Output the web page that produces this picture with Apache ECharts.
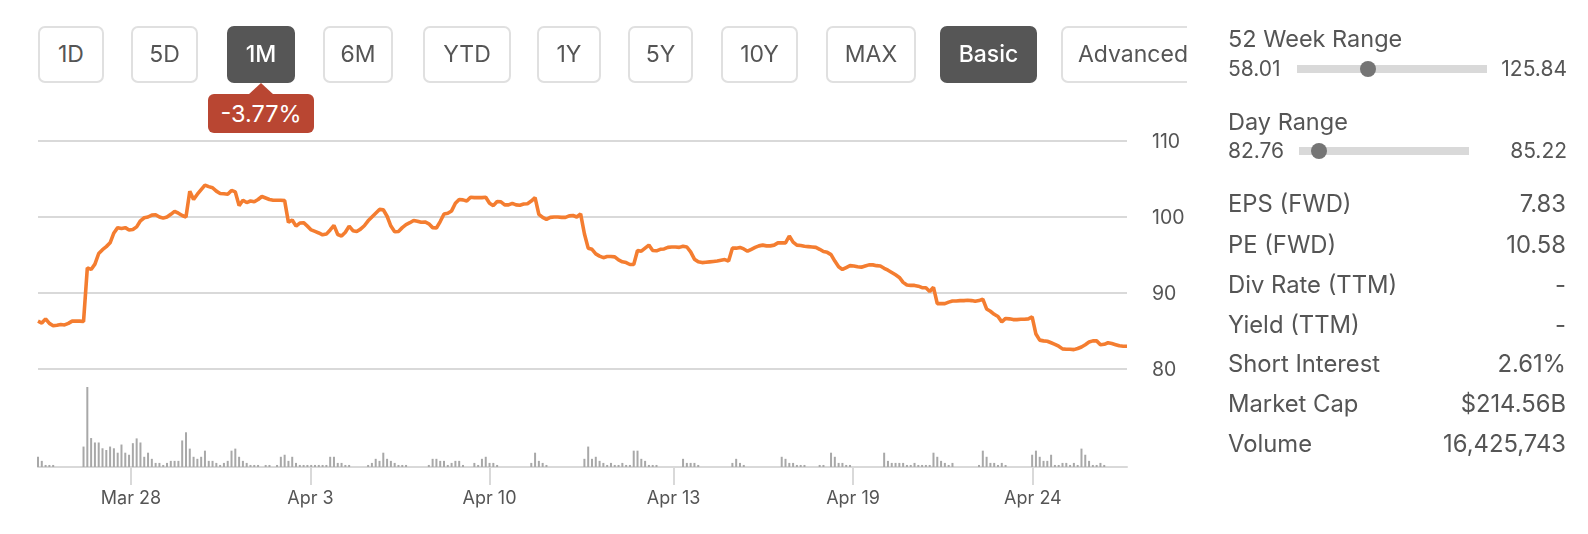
<!DOCTYPE html>
<html>
<head>
<meta charset="utf-8" />
<style>
  html, body { margin: 0; padding: 0; background: #fff; }
  body { width: 1588px; height: 534px; position: relative; overflow: hidden; font-family: Inter, "Noto Sans", sans-serif; color: #555; }
  #chart { position: absolute; left: 0; top: 0; width: 1588px; height: 534px; }
  .btn { position: absolute; top: 26px; height: 53px; line-height: 53px; text-align: center; border: 2px solid #e0e0e0; border-radius: 7px; font-size: 23px; background: #fff; box-sizing: content-box; white-space: nowrap; }
  .btn.on { background: #565656; color: #fff; border-color: #565656; font-weight: 500; }
  #badge { position: absolute; left: 208px; top: 94px; width: 106px; height: 39px; line-height: 39px; text-align: center; background: #b94632; color: #fff; border-radius: 6px; font-size: 23.5px; }
  #arrow { position: absolute; left: 248px; top: 83px; width: 0; height: 0; border-left: 13px solid transparent; border-right: 13px solid transparent; border-bottom: 12px solid #b94632; }
  #clip { position: absolute; left: 0; top: 0; width: 1187px; height: 100px; overflow: hidden; }
  .head { position: absolute; left: 1228px; font-size: 23.5px; line-height: 28px; }
  .small { position: absolute; font-size: 21px; line-height: 24px; }
  .track { position: absolute; height: 8px; background: #d9d9d9; }
  .knob { position: absolute; width: 16px; height: 16px; border-radius: 50%; background: #757575; }
  .row { position: absolute; left: 1228px; width: 338px; display: flex; justify-content: space-between; font-size: 23.8px; line-height: 28px; }
</style>
</head>
<body>
<div id="chart"></div>
<div id="clip"></div>
<div id="arrow"></div>
<div id="badge">-3.77%</div>
<div class="head" style="top:25px">52 Week Range</div>
<div class="small" style="left:1228px;top:57px">58.01</div>
<div class="track" style="left:1297px;top:65px;width:190px"></div>
<div class="knob" style="left:1360px;top:61px"></div>
<div class="small" style="right:21px;top:57px">125.84</div>
<div class="head" style="top:108px">Day Range</div>
<div class="small" style="left:1228px;top:139px">82.76</div>
<div class="track" style="left:1299px;top:147px;width:170px"></div>
<div class="knob" style="left:1311px;top:143px"></div>
<div class="small" style="right:21px;top:139px">85.22</div>
<div id="stats"></div>
<script src="https://cdn.jsdelivr.net/npm/echarts@6/dist/echarts.min.js"></script>
<script>
var rangeNames = ['1D', '5D', '1M', '6M', 'YTD', '1Y', '5Y', '10Y', 'MAX', 'Basic', 'Advanced'];
var activeNames = ['1M', 'Basic'];
var statLabels = ['EPS (FWD)', 'PE (FWD)', 'Div Rate (TTM)', 'Yield (TTM)', 'Short Interest', 'Market Cap', 'Volume'];
var statValues = ['7.83', '10.58', '-', '-', '2.61%', '$214.56B', '16,425,743'];
var priceTicks = [80, 90, 100, 110];
var dateTickIndex = [24.5, 71.8, 119, 167.5, 214.8, 262.2];
var dateTickLabels = ['Mar 28', 'Apr 3', 'Apr 10', 'Apr 13', 'Apr 19', 'Apr 24'];

var prices = [
  86.3, 86.05, 86.6, 86.0, 85.7, 85.75, 85.85, 85.8, 86.0, 86.3,
  86.3, 86.3, 86.25, 93.3, 93.1, 93.8, 95.2, 95.7, 96.1, 96.6,
  97.9, 98.6, 98.5, 98.6, 98.3, 98.35, 98.7, 99.5, 99.9, 100,
  100.25, 100.3, 100, 99.85, 100, 100.35, 100.75, 100.5, 100.2, 100,
  103.4, 102.3, 103, 103.6, 104.2, 104, 103.85, 103.4, 103.1, 103.05,
  103, 103.5, 103.3, 101.5, 102.2, 101.9, 102.1, 102, 102.3, 102.7,
  102.5, 102.3, 102.2, 102.2, 102.2, 102.15, 99.3, 99.6, 98.8, 99.2,
  99.25, 98.8, 98.3, 98.1, 97.9, 97.65, 97.75, 98.3, 98.9, 97.7,
  97.5, 98, 98.8, 98.2, 98.1, 98.4, 98.85, 99.5, 100, 100.5,
  101, 100.95, 100.1, 98.8, 98.05, 98.1, 98.6, 99, 99.25, 99.55,
  99.45, 99.3, 99.35, 99.1, 98.6, 98.55, 99.4, 100.4, 100.5, 100.8,
  101.8, 102.3, 102.25, 102.1, 102.6, 102.55, 102.55, 102.55, 102.6, 101.8,
  101.5, 102.05, 102, 101.6, 101.6, 101.8, 101.6, 101.55, 101.7, 101.75,
  102.1, 102.55, 100.35, 99.95, 99.7, 99.95, 100, 100, 99.95, 99.95,
  100.15, 100.2, 100, 100.4, 97.8, 95.9, 95.75, 95.15, 94.85, 94.65,
  94.8, 94.8, 94.75, 94.35, 94.1, 94, 93.75, 93.75, 95.6, 95.5,
  95.9, 96.3, 95.6, 95.55, 95.75, 95.8, 96, 96.05, 96.05, 96,
  96.15, 96.05, 95.4, 94.45, 94.1, 94, 94.05, 94.1, 94.15, 94.2,
  94.3, 94.4, 94.2, 95.9, 95.9, 96, 95.8, 95.5, 95.75, 96,
  96.2, 96.3, 96.2, 96.2, 96.3, 96.6, 96.6, 96.6, 97.5, 96.7,
  96.3, 96.25, 96.15, 96.1, 96.05, 96, 95.75, 95.45, 95.35, 95.05,
  94.2, 93.45, 93.1, 93.35, 93.6, 93.55, 93.45, 93.4, 93.55, 93.7,
  93.7, 93.6, 93.55, 93.25, 93, 92.7, 92.4, 92.05, 91.4, 91.05,
  91, 91, 90.9, 90.7, 90.7, 90.2, 90.75, 88.6, 88.6, 88.6,
  88.8, 88.95, 88.95, 89, 89, 89.05, 89, 88.9, 89, 89.2,
  87.9, 87.6, 87.2, 86.9, 86.2, 86.65, 86.6, 86.5, 86.5, 86.55,
  86.55, 86.6, 86.85, 84.6, 83.8, 83.7, 83.65, 83.45, 83.25, 83,
  82.65, 82.6, 82.6, 82.55, 82.7, 82.9, 83.2, 83.55, 83.7, 83.7,
  83.2, 83.25, 83.45, 83.35, 83.2, 83.05, 83, 83
];

// millions of shares
var volumes = [
  1.5, 0.9, 0.3, 0.3, 0.3, 0, 0, 0, 0, 0,
  0, 0, 3.0, 11.75, 4.25, 3.6, 3.6, 2.75, 2.5, 3.0,
  2.75, 2.1, 3.3, 2.1, 1.8, 3.5, 4.2, 3.6, 1.5, 2.1,
  1.2, 0.6, 0.6, 0.3, 0.6, 0.9, 0.9, 0.9, 3.9, 5.1,
  2.7, 1.5, 1.2, 1.5, 2.4, 0.9, 0.9, 0.6, 0.3, 0.6,
  0.9, 2.4, 2.7, 1.5, 0.9, 0.6, 0.3, 0.3, 0.3, 0,
  0.3, 0.3, 0, 0.3, 1.5, 1.8, 0.9, 1.5, 0.6, 0.3,
  0.3, 0.3, 0.3, 0.3, 0.3, 0.3, 0.3, 1.5, 1.5, 0.6,
  0.6, 0.3, 0.3, 0, 0, 0, 0, 0.3, 0.6, 1.2,
  0.9, 2.1, 1.2, 0.9, 0.6, 0.3, 0.3, 0.3, 0, 0,
  0, 0, 0, 0.3, 1.2, 1.2, 0.9, 0.9, 0.3, 0.6,
  0.9, 0.9, 0.3, 0, 0, 0.6, 0.3, 1.2, 1.5, 0.6,
  0.6, 0.3, 0, 0, 0, 0, 0, 0, 0, 0,
  0.6, 2.1, 0.9, 0.6, 0.3, 0, 0, 0, 0, 0,
  0, 0, 0, 0, 1.2, 3.0, 1.2, 1.5, 0.9, 0.6,
  0.3, 0.6, 0.3, 0.3, 0.6, 0.3, 0.3, 2.4, 2.4, 1.2,
  0.9, 0.3, 0.3, 0.3, 0, 0, 0, 0, 0, 0,
  1.2, 0.6, 0.6, 0.6, 0.3, 0, 0, 0, 0, 0,
  0, 0, 0, 0.6, 1.2, 0.6, 0.3, 0, 0, 0,
  0, 0, 0, 0, 0, 0, 1.5, 1.2, 0.6, 0.6,
  0.3, 0.3, 0.3, 0, 0, 0, 0.3, 0.3, 0, 2.1,
  1.5, 0.6, 0.6, 0.3, 0.3, 0, 0, 0, 0, 0,
  0, 0, 0, 2.1, 0.9, 0.6, 0.6, 0.6, 0.6, 0.3,
  0.3, 0.6, 0.3, 0.3, 0.3, 0.3, 2.1, 1.5, 0.9, 0.6,
  0.3, 0.6, 0, 0, 0, 0, 0, 0, 0.3, 2.4,
  1.5, 0.6, 0.6, 0.3, 0.6, 0.3, 0, 0, 0, 0,
  0, 0, 1.8, 2.4, 1.5, 0.9, 0.9, 1.8, 0.3, 0.3,
  0.6, 0.6, 0.3, 0.6, 0.3, 2.7, 1.8, 0.9, 0.3, 0.3,
  0.6, 0.3, 0, 0, 0, 0, 0, 0
];

// range buttons and stat rows around the chart
var btnLeft = [38, 131, 227, 323, 423, 537, 628, 721, 826, 940, 1061];
var btnWidth = [62, 63, 64, 66, 84, 60, 61, 73, 86, 93, 140];
var clip = document.getElementById('clip');
rangeNames.forEach(function (name, i) {
  var b = document.createElement('div');
  b.className = activeNames.indexOf(name) >= 0 ? 'btn on' : 'btn';
  b.style.left = btnLeft[i] + 'px';
  b.style.width = btnWidth[i] + 'px';
  b.textContent = name;
  clip.appendChild(b);
});
var statTop = [190, 231, 271, 311, 350, 390, 430];
var stats = document.getElementById('stats');
statLabels.forEach(function (label, i) {
  var r = document.createElement('div');
  r.className = 'row';
  r.style.top = statTop[i] + 'px';
  var a = document.createElement('span');
  a.textContent = label;
  var b = document.createElement('span');
  b.textContent = statValues[i];
  r.appendChild(a);
  r.appendChild(b);
  stats.appendChild(r);
});

var chart = echarts.init(document.getElementById('chart'));
var lastIndex = prices.length - 1;
var pricePoints = prices.map(function (p, i) { return [i, p]; });
var volumePoints = volumes.map(function (v, i) { return [i, v]; });
option = {
  animation: false,
  grid: [
    { left: 38, right: 461, top: 141, height: 228 },
    { left: 38, right: 461, top: 387, height: 80 }
  ],
  xAxis: [
    {
      type: 'value', gridIndex: 0, min: 0, max: lastIndex, splitLine: { show: false },
      axisLine: { show: false }, axisTick: { show: false }, axisLabel: { show: false }
    },
    {
      type: 'value', gridIndex: 1, min: 0, max: lastIndex, splitLine: { show: false },
      axisLine: { onZero: false, lineStyle: { color: '#d9d9d9', width: 2 } },
      axisTick: { length: 18, customValues: dateTickIndex, lineStyle: { color: '#d9d9d9', width: 2 } },
      axisLabel: {
        customValues: dateTickIndex,
        formatter: function (value) { return dateTickLabels[dateTickIndex.indexOf(value)]; },
        color: '#555', fontSize: 18, fontFamily: 'Inter', margin: 23
      }
    }
  ],
  yAxis: [
    {
      type: 'value', gridIndex: 0, position: 'right', min: priceTicks[0], max: priceTicks[3], interval: 10,
      axisLine: { show: false }, axisTick: { show: false },
      axisLabel: {
        margin: 25,
        formatter: '{a|{value}}',
        rich: { a: { color: '#555', fontSize: 19.5, fontFamily: 'Inter', padding: [3, 0, 0, 0] } }
      },
      splitLine: { lineStyle: { color: '#d9d9d9', width: 2 } }
    },
    {
      type: 'value', gridIndex: 1, min: 0, max: 11.75,
      axisLine: { show: false }, axisTick: { show: false }, axisLabel: { show: false }, splitLine: { show: false }
    }
  ],
  series: [
    {
      type: 'line', data: pricePoints, xAxisIndex: 0, yAxisIndex: 0, showSymbol: false,
      lineStyle: { color: '#f47d30', width: 3.6 }
    },
    {
      type: 'bar', data: volumePoints, xAxisIndex: 1, yAxisIndex: 1, barWidth: 2,
      itemStyle: { color: '#a8a8a8' }
    }
  ]
};
chart.setOption(option);
</script>
</body>
</html>
